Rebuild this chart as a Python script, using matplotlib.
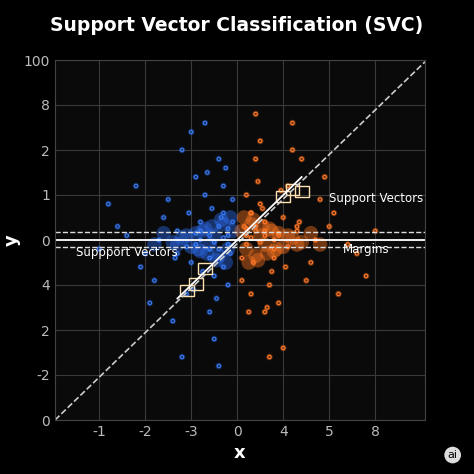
import matplotlib
matplotlib.use("Agg")
import matplotlib.pyplot as plt
from matplotlib.patches import Rectangle

title = "Support Vector Classification (SVC)"
x_tick_pos = [-3, -2, -1, 0, 1, 2, 3]
x_tick_labels = ["-1", "-2", "-3", "0", "4", "5", "8"]
y_tick_pos = [4, 3, 2, 1, 0, -1, -2, -3, -4]
y_tick_labels = ["100", "8", "2", "1", "0", "4", "2", "-2", "0"]

blue_x = [-0.2,-0.4,-0.6,-0.3,-0.8,-1.0,-1.3,-0.5,-0.7,-1.6,-2.0,-2.4,-1.1,-0.9,-0.2,-0.3,-1.5,-1.8,-2.6,-3.0,
          -0.4,-0.6,-1.2,-0.1,-0.5,-0.9,-1.4,-2.2,-0.8,-0.3,-1.0,-1.7,-0.6,-0.2,-2.8,-1.2,-0.7,-0.4,-1.9,-0.1,
          -0.3,-0.5,-0.9,-1.1,-0.2,-0.6,-1.3,-0.4,-0.8,-2.1,-0.15,-0.35,-0.55,-0.75,-1.05,-1.35,-0.25,-0.45,-0.65,-0.95]
blue_y = [0.1,0.3,-0.2,0.6,0.4,-0.5,0.2,-0.8,1.0,0.5,-0.3,0.1,-1.2,1.4,-0.1,-0.6,0.9,-0.9,0.3,-0.2,
          1.8,-1.6,2.0,0.9,-2.2,-0.1,-1.8,1.2,0.0,1.2,2.4,0.0,-0.4,-1.0,0.8,-2.6,2.6,-2.8,-1.4,0.4,
          0.05,-0.05,0.15,-0.15,0.25,0.1,-0.3,-0.2,0.2,-0.6,-0.3,0.5,0.7,-0.7,0.6,-0.4,1.6,-1.3,1.5,-1.1]
blue_core_x = [-0.1,-0.2,-0.3,-0.4,-0.5,-0.6,-0.7,-0.8,-0.9,-1.0,-1.2,-1.4,-0.15,-0.25,-0.35,-0.45,-0.55,-0.65,-0.75,-0.85,-1.1,-1.3,-1.6,-1.8]
blue_core_y = [0.2,-0.2,0.35,-0.35,0.1,-0.1,0.25,-0.25,0.15,-0.15,0.05,-0.05,0.5,-0.5,0.45,-0.45,0.3,-0.3,0.2,-0.2,0.1,-0.1,0.15,-0.1]
orange_x = [0.2,0.4,0.6,0.3,0.8,1.0,1.3,0.5,0.7,1.6,2.0,2.4,1.1,0.9,0.2,0.3,1.5,1.8,2.6,3.0,
            0.4,0.6,1.2,0.1,0.5,0.9,1.4,2.2,0.8,0.3,1.0,1.7,0.6,0.2,2.8,1.2,0.7,0.4,1.9,0.1,
            0.3,0.5,0.9,1.1,0.2,0.6,1.3,0.4,0.8,2.1,0.15,0.35,0.55,0.75,1.05,1.35,0.25,0.45,0.65,0.95]
orange_y = [-0.1,0.3,0.2,0.6,-0.4,0.5,0.2,0.8,-1.0,-0.5,0.3,-0.1,1.2,-1.4,0.1,0.6,-0.9,0.9,-0.3,0.2,
            1.8,-1.6,2.0,-0.9,2.2,0.1,1.8,-1.2,0.0,-1.2,-2.4,0.0,0.4,1.0,-0.8,2.6,-2.6,2.8,1.4,-0.4,
            0.05,-0.05,0.15,-0.15,0.25,0.1,0.3,0.2,-0.2,0.6,0.3,-0.5,0.7,-0.7,-0.6,0.4,-1.6,1.3,-1.5,1.1]
orange_core_x = [0.1,0.2,0.3,0.4,0.5,0.6,0.7,0.8,0.9,1.0,1.2,1.4,0.15,0.25,0.35,0.45,0.55,0.65,0.75,0.85,1.1,1.3,1.6,1.8]
orange_core_y = [0.2,-0.2,0.35,-0.35,0.1,-0.1,0.25,-0.25,0.15,-0.15,0.05,-0.05,0.5,-0.5,0.45,-0.45,0.3,-0.3,0.2,-0.2,0.1,-0.1,0.15,-0.1]

fig = plt.figure(figsize=(4.74, 4.74), dpi=100, facecolor="black")
ax = fig.add_axes([55/474, 54/474, 370/474, 360/474], facecolor="#0a0a0a")
ax.set_xlim(-3.96, 4.08)
ax.set_ylim(-4, 4)
ax.grid(color="#3a3a3a", lw=0.8)
ax.set_axisbelow(True)
for s in ax.spines.values():
    s.set_color("#444444")

ax.scatter(blue_core_x, blue_core_y, s=110, c="#2a66e0", alpha=0.45, edgecolors="none")
ax.scatter(orange_core_x, orange_core_y, s=110, c="#f07020", alpha=0.45, edgecolors="none")
ax.scatter(blue_x, blue_y, s=22, c="#1f5fd6", alpha=0.4, edgecolors="none")
ax.scatter(blue_x, blue_y, s=6, facecolors="none", edgecolors="#3d7bf0", lw=0.8)
ax.scatter(orange_x, orange_y, s=22, c="#e8661a", alpha=0.4, edgecolors="none")
ax.scatter(orange_x, orange_y, s=6, facecolors="none", edgecolors="#ff7a2a", lw=0.8)

ax.plot([-3.96, 4.08], [-4, 3.96], ls="--", color="#cccccc", lw=1.2)
ax.plot([-1.3, 1.4], [-1.3, 1.4], color="white", lw=1.3)
ax.axhline(0, color="white", lw=1.3)
ax.axhline(0.18, color="#dddddd", ls="--", lw=1)
ax.axhline(-0.15, color="#dddddd", ls="--", lw=1)
for (x0, y0) in [(0.85, 0.85), (1.05, 1.0), (1.25, 0.95), (-1.25, -1.25), (-1.05, -1.1), (-0.85, -0.75)]:
    ax.add_patch(Rectangle((x0, y0), 0.3, 0.25, fill=False, ec="#ffe0b0", lw=1.0))

ax.text(2.0, 0.85, "Support Vectors", color="white", fontsize=8.5)
ax.text(-3.5, -0.35, "Suppport Vectors", color="white", fontsize=8.5)
ax.text(2.3, -0.3, "Margins", color="white", fontsize=8.5)

ax.set_xticks(x_tick_pos, x_tick_labels)
ax.set_yticks(y_tick_pos, y_tick_labels)
ax.tick_params(colors="#bbbbbb", labelsize=10, length=0)
ax.set_xlabel("x", color="white", fontsize=13, fontweight="bold")
ax.set_ylabel("y", color="white", fontsize=13, fontweight="bold", labelpad=2)
fig.text(0.5, 0.935, title, color="white", fontsize=13.5, fontweight="bold", ha="center")
fig.text(0.955, 0.04, "ai", color="black", fontsize=8, ha="center", va="center",
         bbox=dict(boxstyle="circle", fc="#dddddd", ec="none"))
fig.savefig("out.png", dpi=100, facecolor="black")
